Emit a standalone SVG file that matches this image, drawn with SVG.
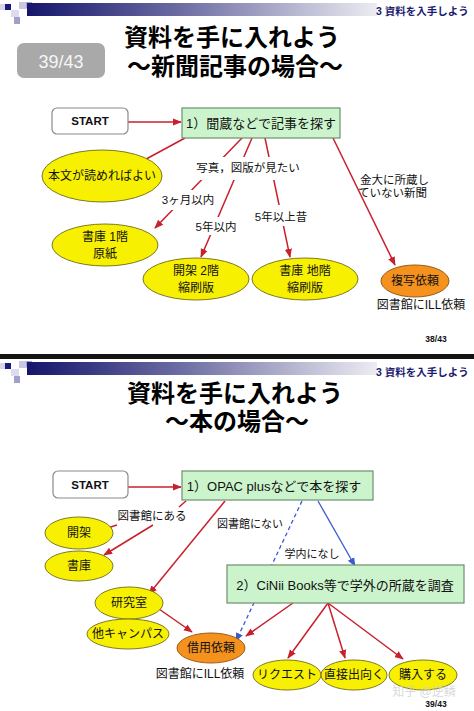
<svg xmlns="http://www.w3.org/2000/svg" width="474" height="711" viewBox="0 0 474 711">
<defs>
<linearGradient id="band" x1="0" x2="1" y1="0" y2="0">
<stop offset="0" stop-color="#15156c"/>
<stop offset="0.45" stop-color="#6f6fa4"/>
<stop offset="1" stop-color="#ececf2"/>
</linearGradient>
<marker id="ar" viewBox="0 0 10 10" refX="9" refY="5" markerWidth="9" markerHeight="9" markerUnits="userSpaceOnUse" orient="auto"><path d="M0,1 L10,5 L0,9 z" fill="#c8202c"/></marker>
<marker id="ab" viewBox="0 0 10 10" refX="9" refY="5" markerWidth="9" markerHeight="9" markerUnits="userSpaceOnUse" orient="auto"><path d="M0,1 L10,5 L0,9 z" fill="#3a5ad0"/></marker>
<g id="hdr">
<rect x="0" y="4" width="5" height="6" fill="#d6d6e8"/>
<rect x="5" y="4" width="6" height="6" fill="#1a1a78"/>
<rect x="19" y="2" width="8" height="7" fill="#c8c8e2"/>
<rect x="26" y="2" width="6" height="6" fill="#a4a4d0"/>
<rect x="11" y="10" width="8" height="7" fill="#dcdcee"/>
<rect x="14" y="17" width="6" height="7" fill="#a0a0cc"/>
<rect x="27" y="3" width="350" height="13" fill="url(#band)"/>
</g>
</defs>
<style>
.t{font-family:'Liberation Sans','Noto Sans CJK JP',sans-serif;fill:#111;text-anchor:middle}
.l{font-family:'Liberation Sans','Noto Sans CJK JP',sans-serif;fill:#111}
.ttl{font-family:'Liberation Sans','Noto Sans CJK JP',sans-serif;font-weight:bold;font-size:24px;fill:#000;text-anchor:middle}
.sec{font-family:'Liberation Sans','Noto Sans CJK JP',sans-serif;font-weight:bold;font-size:10.5px;fill:#1a1a6e}
.pg{font-family:'Liberation Sans',sans-serif;font-weight:bold;font-size:8.5px;fill:#111;text-anchor:middle}
.ell{fill:#f7f000;stroke:#7d7a20;stroke-width:1}
.org{fill:#f5921e;stroke:#9a5a18;stroke-width:1}
.grn{fill:#ccf4cc;stroke:#6e8e6e;stroke-width:1.2}
.st{fill:#fff;stroke:#8a8a8a;stroke-width:1.2}
.red{stroke:#c8202c;stroke-width:1.5;fill:none}
.blu{stroke:#3a5ad0;stroke-width:1.3;fill:none}
.bg{fill:#fff}
</style>
<rect x="0" y="0" width="474" height="711" fill="#fff"/>

<!-- top slide header -->
<use href="#hdr"/>
<text class="sec" x="376" y="15">3 資料を入手しよう</text>
<g id="pagebox">
<rect x="17" y="43" width="88" height="35" rx="7" fill="#a9a9a9"/>
<text x="61" y="68" font-family="'Liberation Sans',sans-serif" font-size="18" fill="#f6f6f6" text-anchor="middle">39/43</text>
</g>
<text class="ttl" x="232" y="46">資料を手に入れよう</text>
<text class="ttl" x="235" y="75">～新聞記事の場合～</text>

<g id="connectors-top">
<line class="red" x1="128" y1="122" x2="181" y2="122" marker-end="url(#ar)"/>
<line class="red" x1="185" y1="138" x2="137" y2="164" marker-end="url(#ar)"/>
<line class="red" x1="242" y1="138" x2="155" y2="228" marker-end="url(#ar)"/>
<line class="red" x1="252" y1="138" x2="201" y2="257" marker-end="url(#ar)"/>
<line class="red" x1="265" y1="138" x2="290" y2="257" marker-end="url(#ar)"/>
<line class="red" x1="333" y1="138" x2="395" y2="265" marker-end="url(#ar)"/>
</g>

<g id="start1"><rect class="st" x="52" y="108" width="76" height="26" rx="5"/><text class="t" x="90" y="125" font-size="11.5" font-weight="bold">START</text></g>
<g id="search1"><rect class="grn" x="182" y="108" width="158" height="30"/><text class="t" x="261" y="128" font-size="13">1）聞蔵などで記事を探す</text></g>
<g id="honbun"><ellipse class="ell" cx="102" cy="176" rx="60" ry="26"/><text class="t" x="102" y="180" font-size="12">本文が読めればよい</text></g>
<g id="shoko1"><ellipse class="ell" cx="105" cy="245" rx="53" ry="21"/><text class="t" x="105" y="241" font-size="12">書庫 1階</text><text class="t" x="105" y="258" font-size="12">原紙</text></g>
<g id="kaika2"><ellipse class="ell" cx="196" cy="279" rx="53" ry="21"/><text class="t" x="196" y="275" font-size="12">開架 2階</text><text class="t" x="196" y="292" font-size="12">縮刷版</text></g>
<g id="shokoB"><ellipse class="ell" cx="305" cy="279" rx="53" ry="21"/><text class="t" x="305" y="275" font-size="12">書庫 地階</text><text class="t" x="305" y="292" font-size="12">縮刷版</text></g>
<g id="fukusha"><ellipse class="org" cx="415" cy="281" rx="34" ry="16"/><text class="t" x="415" y="285" font-size="12">複写依頼</text></g>
<text class="t" x="421" y="309" font-size="12">図書館にILL依頼</text>

<g id="labels-top">
<rect class="bg" x="196" y="157" width="104" height="23"/>
<text class="t" x="248" y="172" font-size="11.5">写真，図版が見たい</text>
<rect class="bg" x="160" y="190" width="56" height="20"/>
<text class="t" x="188" y="204" font-size="11.5">3ヶ月以内</text>
<rect class="bg" x="192" y="217" width="48" height="18"/>
<text class="t" x="216" y="231" font-size="11.5">5年以内</text>
<rect class="bg" x="253" y="205" width="57" height="21"/>
<text class="t" x="281" y="221" font-size="11.5">5年以上昔</text>
<text class="l" x="360" y="184" font-size="11.5">金大に所蔵し</text>
<text class="l" x="358" y="197" font-size="11.5">ていない新聞</text>
</g>
<text class="pg" x="436" y="342">38/43</text>

<rect x="0" y="354" width="474" height="5" fill="#141414"/>

<!-- bottom slide header -->
<use href="#hdr" y="359"/>
<text class="sec" x="376" y="376">3 資料を入手しよう</text>
<text class="ttl" x="235" y="402">資料を手に入れよう</text>
<text class="ttl" x="237" y="430">～本の場合～</text>

<g id="connectors-bottom">
<line class="red" x1="128" y1="487" x2="181" y2="487" marker-end="url(#ar)"/>
<line class="red" x1="186" y1="501" x2="179" y2="507"/>
<line class="red" x1="117" y1="525" x2="98" y2="531" marker-end="url(#ar)"/>
<line class="red" x1="153" y1="525" x2="104" y2="555" marker-end="url(#ar)"/>
<line class="red" x1="225" y1="501" x2="149" y2="594" marker-end="url(#ar)"/>
<line class="blu" x1="302" y1="501" x2="236" y2="641" stroke-dasharray="4 3" marker-end="url(#ab)"/>
<line class="blu" x1="318" y1="501" x2="355" y2="566" marker-end="url(#ab)"/>
<line class="red" x1="293" y1="603" x2="246" y2="636" marker-end="url(#ar)"/>
<line class="red" x1="159" y1="609" x2="192" y2="632" marker-end="url(#ar)"/>
<line class="red" x1="328" y1="603" x2="288" y2="658" marker-end="url(#ar)"/>
<line class="red" x1="328" y1="603" x2="345" y2="658" marker-end="url(#ar)"/>
<line class="red" x1="328" y1="603" x2="403" y2="659" marker-end="url(#ar)"/>
</g>

<g id="start2"><rect class="st" x="53" y="471" width="75" height="27" rx="5"/><text class="t" x="90" y="489" font-size="11.5" font-weight="bold">START</text></g>
<g id="opac"><rect class="grn" x="182" y="471" width="191" height="29"/><text class="t" x="274" y="491" font-size="13">1）OPAC plusなどで本を探す</text></g>
<g id="cinii"><rect class="grn" x="227" y="565" width="237" height="38"/><text class="t" x="345" y="590" font-size="13">2）CiNii Books等で学外の所蔵を調査</text></g>
<g id="kaika"><ellipse class="ell" cx="79" cy="533" rx="34" ry="16"/><text class="t" x="79" y="537" font-size="12">開架</text></g>
<g id="shoko"><ellipse class="ell" cx="79" cy="566" rx="34" ry="15"/><text class="t" x="79" y="570" font-size="12">書庫</text></g>
<g id="kenkyu"><ellipse class="ell" cx="129" cy="603" rx="34" ry="16"/><text class="t" x="129" y="607" font-size="12">研究室</text></g>
<g id="tacamp"><ellipse class="ell" cx="128" cy="634" rx="41" ry="15"/><text class="t" x="128" y="638" font-size="12">他キャンパス</text></g>
<g id="shakuyo"><ellipse class="org" cx="211" cy="648" rx="34" ry="15"/><text class="t" x="211" y="652" font-size="12">借用依頼</text></g>
<text class="t" x="200" y="678" font-size="12">図書館にILL依頼</text>
<g id="request"><ellipse class="ell" cx="287" cy="675" rx="34" ry="15"/><text class="t" x="287" y="679" font-size="12">リクエスト</text></g>
<g id="chokusetsu"><ellipse class="ell" cx="354" cy="675" rx="33" ry="15"/><text class="t" x="354" y="679" font-size="12">直接出向く</text></g>
<g id="konyu"><ellipse class="ell" cx="423" cy="675" rx="34" ry="15"/><text class="t" x="423" y="679" font-size="12">購入する</text></g>

<g id="labels-bottom">
<text class="t" x="152" y="520" font-size="11.5">図書館にある</text>
<text class="t" x="250" y="528" font-size="11">図書館にない</text>
<text class="t" x="312" y="558" font-size="11">学内になし</text>
</g>
<text x="424" y="696" font-family="'Liberation Sans','Noto Sans CJK SC',sans-serif" font-size="12" fill="#cfcfcf" fill-opacity="0.8" text-anchor="middle">知乎 @逆鳞</text>
<text class="pg" x="436" y="707">39/43</text>
</svg>
